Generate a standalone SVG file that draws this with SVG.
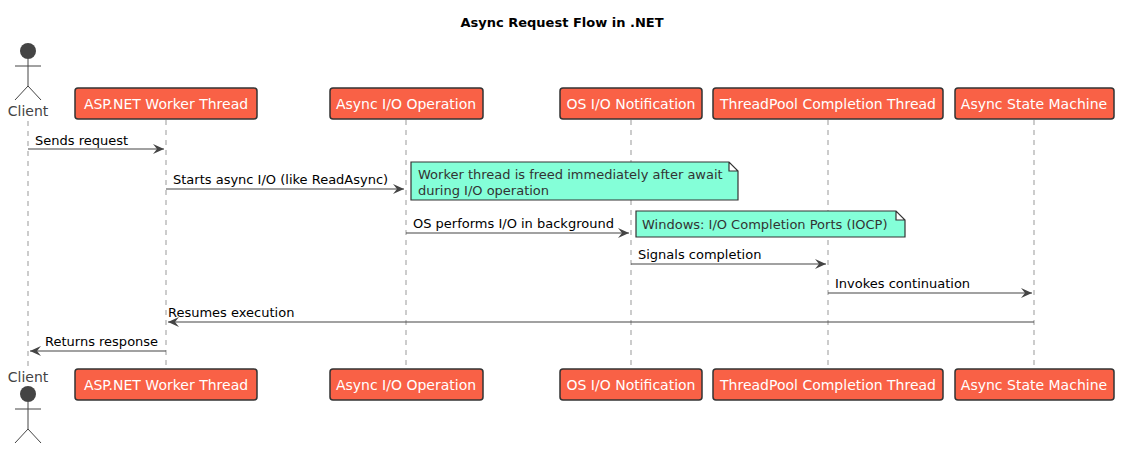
<svg xmlns="http://www.w3.org/2000/svg" width="1124" height="450" viewBox="0 0 1124 450">
<defs>
<style>
text{font-family:"DejaVu Sans",sans-serif;font-size:13px;fill:#000}
.t{font-weight:bold;font-size:13px}
.p rect{fill:#F96146;stroke:#333;stroke-width:1.5}
.p text{fill:#fff;text-anchor:middle;font-size:14px}
.ll{stroke:#999;stroke-dasharray:5,5;stroke-width:1}
.m{stroke:#444;stroke-width:1.2;fill:none}
.n path{fill:#84FFD8;stroke:#333;stroke-width:1.2}
.n text{fill:#333}
.actor{fill:none;stroke:#444;stroke-width:1}
</style>
<marker id="ar" markerWidth="12" markerHeight="10" refX="11" refY="5" orient="auto" markerUnits="userSpaceOnUse"><path d="M0,0 L11,5 L0,10 L4,5 Z" fill="#444"/></marker>
</defs>
<rect width="1124" height="450" fill="#fff"/>
<text class="t" x="562" y="27" text-anchor="middle">Async Request Flow in .NET</text>
<g id="lifelines">
<line class="ll" x1="28" y1="121" x2="28" y2="369"/>
<line class="ll" x1="166" y1="120" x2="166" y2="369"/>
<line class="ll" x1="406" y1="120" x2="406" y2="369"/>
<line class="ll" x1="631" y1="120" x2="631" y2="369"/>
<line class="ll" x1="828" y1="120" x2="828" y2="369"/>
<line class="ll" x1="1034" y1="120" x2="1034" y2="369"/>
</g>
<g id="client">
<circle cx="28" cy="51" r="8" fill="#444"/>
<path class="actor" d="M28,59 V86 M15,66 H41 M28,86 L15,100 M28,86 L41,100"/>
<text x="28" y="116" text-anchor="middle" style="fill:#444;font-size:14px">Client</text>
<text x="28" y="382" text-anchor="middle" style="fill:#444;font-size:14px">Client</text>
<circle cx="28" cy="394" r="8" fill="#444"/>
<path class="actor" d="M28,402 V429 M15,409 H41 M28,429 L15,443 M28,429 L41,443"/>
</g>
<g id="asp" class="p"><rect x="75" y="88" width="182" height="31" rx="3"/><text x="166" y="109">ASP.NET Worker Thread</text><rect x="75" y="369" width="182" height="31" rx="3"/><text x="166" y="390">ASP.NET Worker Thread</text></g>
<g id="aio" class="p"><rect x="330" y="88" width="153" height="31" rx="3"/><text x="406" y="109">Async I/O Operation</text><rect x="330" y="369" width="153" height="31" rx="3"/><text x="406" y="390">Async I/O Operation</text></g>
<g id="os" class="p"><rect x="560" y="88" width="142" height="31" rx="3"/><text x="631" y="109">OS I/O Notification</text><rect x="560" y="369" width="142" height="31" rx="3"/><text x="631" y="390">OS I/O Notification</text></g>
<g id="tp" class="p"><rect x="713" y="88" width="230" height="31" rx="3"/><text x="828" y="109">ThreadPool Completion Thread</text><rect x="713" y="369" width="230" height="31" rx="3"/><text x="828" y="390">ThreadPool Completion Thread</text></g>
<g id="asm" class="p"><rect x="955" y="88" width="159" height="31" rx="3"/><text x="1034" y="109">Async State Machine</text><rect x="955" y="369" width="159" height="31" rx="3"/><text x="1034" y="390">Async State Machine</text></g>
<g id="connectors">
<line class="m" x1="28" y1="149" x2="164" y2="149" marker-end="url(#ar)"/><text x="35" y="145">Sends request</text>
<line class="m" x1="166" y1="189" x2="404" y2="189" marker-end="url(#ar)"/><text x="173" y="184">Starts async I/O (like ReadAsync)</text>
<line class="m" x1="406" y1="233" x2="629" y2="233" marker-end="url(#ar)"/><text x="413" y="228">OS performs I/O in background</text>
<line class="m" x1="631" y1="264" x2="826" y2="264" marker-end="url(#ar)"/><text x="638" y="259">Signals completion</text>
<line class="m" x1="828" y1="293" x2="1032" y2="293" marker-end="url(#ar)"/><text x="835" y="288">Invokes continuation</text>
<line class="m" x1="1034" y1="322" x2="168" y2="322" marker-end="url(#ar)"/><text x="168" y="317">Resumes execution</text>
<line class="m" x1="166" y1="351" x2="30" y2="351" marker-end="url(#ar)"/><text x="45" y="346">Returns response</text>
</g>
<g id="note1" class="n"><path d="M411,162 H729 L738,171 V200 H411 Z M729,162 V171 H738"/><text x="418" y="179">Worker thread is freed immediately after await</text><text x="418" y="195">during I/O operation</text></g>
<g id="note2" class="n"><path d="M636,211 H896 L905,220 V237 H636 Z M896,211 V220 H905"/><text x="642" y="229">Windows: I/O Completion Ports (IOCP)</text></g>
</svg>
